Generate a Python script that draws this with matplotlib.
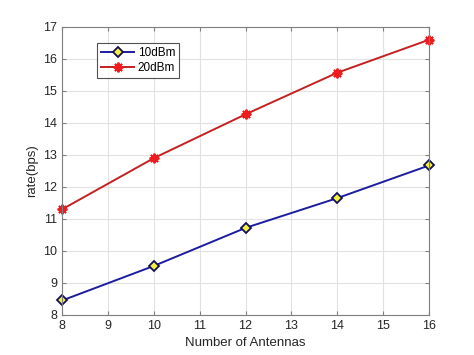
import matplotlib.pyplot as plt

plt.rcParams['font.family'] = ['Liberation Sans', 'DejaVu Sans']

antennas = [8, 10, 12, 14, 16]
rate_10dbm = [8.45, 9.53, 10.72, 11.65, 12.67]
rate_20dbm = [11.3, 12.9, 14.27, 15.57, 16.6]

fig = plt.figure(figsize=(4.74, 3.55), dpi=100)
ax = fig.add_axes([0.131, 0.113, 0.774, 0.811])

ax.plot(antennas, rate_10dbm, color='#1c1ca0', lw=1.4, marker='D', ms=5.5,
        mfc='#f5f03c', mec='#10105a', mew=1.3, label='10dBm', clip_on=False)
ax.plot(antennas, rate_20dbm, color='#c42020', lw=1.4, marker=(8, 2, 0), ms=7,
        mec='#ee1c1c', mew=1.4, label='20dBm', clip_on=False)

ax.set_xlim(8, 16)
ax.set_ylim(8, 17)
ax.set_xticks(range(8, 17))
ax.set_yticks(range(8, 18))
ax.grid(True, color='#e2e2e2', lw=0.8)
ax.set_axisbelow(True)
for s in ax.spines.values():
    s.set_color('#7f7f7f')
ax.tick_params(direction='in', colors='#262626', labelsize=9, length=3,
               top=True, right=True, labeltop=False, labelright=False)
ax.tick_params(color='#7f7f7f')
ax.set_xlabel('Number of Antennas', fontsize=9.5, color='#262626')
ax.set_ylabel('rate(bps)', fontsize=9.5, color='#262626')

leg = ax.legend(loc='upper left', bbox_to_anchor=(0.095, 0.945), fontsize=8.5,
                frameon=True, fancybox=False, borderpad=0.35, handlelength=2.8,
                handletextpad=0.3, labelspacing=0.25, borderaxespad=0)
leg.get_frame().set_edgecolor('#262626')
leg.get_frame().set_linewidth(0.8)

fig.savefig('out.png', dpi=100)
